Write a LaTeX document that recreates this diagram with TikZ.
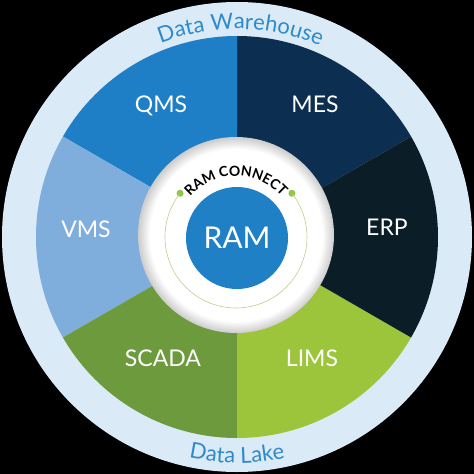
\documentclass[tikz,border=0pt]{standalone}
\usepackage{fontspec}
\setmainfont{Lato}
\usetikzlibrary{decorations.text, calc}

\definecolor{ringblue}{HTML}{DAEAF6}
\definecolor{ringtext}{HTML}{2E8ACB}
\definecolor{qmsblue}{HTML}{1F7FC6}
\definecolor{mesnavy}{HTML}{0C2E50}
\definecolor{erpdark}{HTML}{0B1D27}
\definecolor{limsgreen}{HTML}{9CC53C}
\definecolor{scadagreen}{HTML}{6E9A3E}
\definecolor{vmsblue}{HTML}{7FAEDC}
\definecolor{ramblue}{HTML}{1F80C6}
\definecolor{connectgreen}{HTML}{8DC63F}
\definecolor{hubline}{HTML}{C2CC8C}

\pgfdeclareradialshading{discshade}{\pgfpoint{0bp}{0bp}}{color(0bp)=(white); color(22bp)=(white); color(25bp)=(black!20); color(50bp)=(black!20)}

\begin{document}
\begin{tikzpicture}[x=1pt, y=1pt,
  lbl/.style={text=white, font=\fontsize{23}{23}\selectfont, text depth=0pt, inner sep=0pt},
  ringlbl/.style={decorate, decoration={text along path, text align=center, text={|\fontsize{22}{22}\selectfont\color{ringtext}|#1}}},
  dot/.style={circle, fill=connectgreen, inner sep=0pt, minimum size=7pt},
]
% ── background ──
\fill[black] (-237,-237) rectangle (237,237);
\useasboundingbox (-237,-237) rectangle (237,237);

% ── outer ring ──
\fill[ringblue] (0,0) circle (235);
\path[ringlbl={Data Warehouse}] (129:208) arc[start angle=129, end angle=49, radius=208];
\path[ringlbl={Data Lake}] (230:226) arc[start angle=230, end angle=310, radius=226];

% ── sectors ──
\fill[mesnavy]    (0,0) -- (30:201)  arc[start angle=30,  end angle=90,  radius=201] -- cycle;
\fill[qmsblue]    (0,0) -- (90:201)  arc[start angle=90,  end angle=150, radius=201] -- cycle;
\fill[vmsblue]    (0,0) -- (150:201) arc[start angle=150, end angle=210, radius=201] -- cycle;
\fill[scadagreen] (0,0) -- (210:201) arc[start angle=210, end angle=270, radius=201] -- cycle;
\fill[limsgreen]  (0,0) -- (270:201) arc[start angle=270, end angle=330, radius=201] -- cycle;
\fill[erpdark]    (0,0) -- (330:201) arc[start angle=330, end angle=390, radius=201] -- cycle;

\node[lbl] (qms)   at (-76,133)  {QMS};
\node[lbl] (mes)   at (78,133)   {MES};
\node[lbl] (erp)   at (150,10)   {ERP};
\node[lbl] (vms)   at (-151,8)   {VMS};
\node[lbl] (scada) at (-74,-121) {SCADA};
\node[lbl] (lims)  at (75,-121)  {LIMS};

% ── RAM connect hub ──
\shade[shading=discshade] (-1,2) circle (98);
\node[dot] (dotl) at ($(-1,0)+(142:71)$) {};
\node[dot] (dotr) at ($(-1,0)+(38:71)$) {};
\draw[hubline, line width=0.6pt] (dotl.center) arc[start angle=142, end angle=398, radius=71];
\path[decorate, decoration={text along path, text align=center, text={|\fontsize{14}{14}\selectfont\bfseries|RAM CONNECT}}] ($(-1,0)+(137:61)$) arc[start angle=137, end angle=43, radius=61];
\node[circle, fill=ramblue, minimum size=102pt, text=white, font=\fontsize{30}{30}\selectfont] (ram) at (0,-1) {RAM};
\end{tikzpicture}
\end{document}
